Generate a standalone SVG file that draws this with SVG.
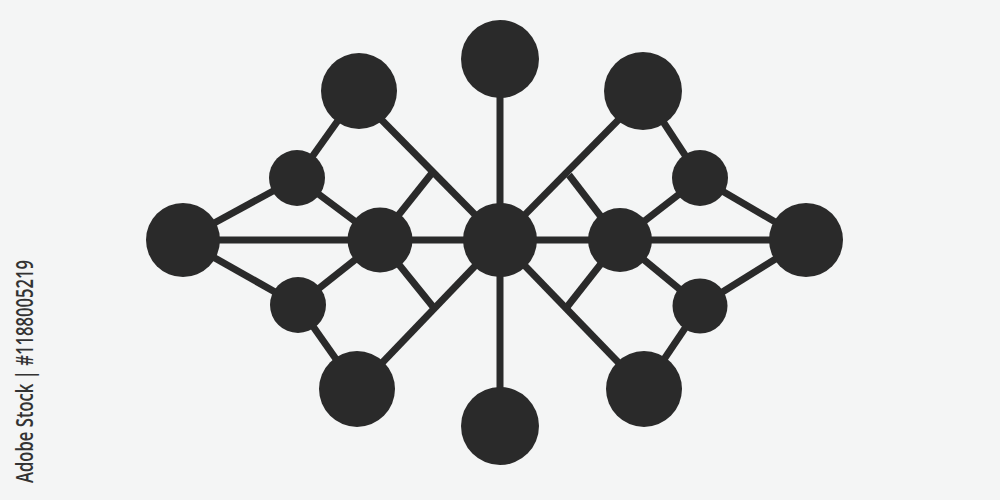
<svg xmlns="http://www.w3.org/2000/svg" width="1000" height="500" viewBox="0 0 1000 500">
<style>
.bg{fill:#f4f5f5}
.n circle{fill:#2a2a2a}
.e line{stroke:#2a2a2a;stroke-width:7;stroke-linecap:butt}
.lbl{font-family:"Open Sans","Liberation Sans",sans-serif;font-size:23px;font-weight:600;fill:#333333}
</style>
<rect class="bg" x="0" y="0" width="1000" height="500"/>
<g id="connectors" class="e">
<line x1="500" y1="59" x2="500" y2="426"/>
<line x1="183" y1="240" x2="806" y2="240"/>
<line x1="183" y1="240" x2="297" y2="178"/>
<line x1="297" y1="178" x2="359" y2="91"/>
<line x1="297" y1="178" x2="380" y2="240"/>
<line x1="500" y1="240" x2="362" y2="100"/>
<line x1="385" y1="232" x2="432" y2="173"/>
<line x1="183" y1="240" x2="298" y2="305"/>
<line x1="298" y1="305" x2="380" y2="240"/>
<line x1="298" y1="305" x2="357" y2="389"/>
<line x1="500" y1="240" x2="357" y2="389"/>
<line x1="388" y1="251" x2="434" y2="308"/>
<line x1="806" y1="240" x2="700" y2="178"/>
<line x1="700" y1="178" x2="643" y2="91"/>
<line x1="700" y1="178" x2="620" y2="240"/>
<line x1="500" y1="240" x2="638" y2="100"/>
<line x1="612" y1="231" x2="569" y2="175"/>
<line x1="806" y1="240" x2="700" y2="306"/>
<line x1="700" y1="306" x2="620" y2="240"/>
<line x1="700" y1="306" x2="644" y2="389"/>
<line x1="500" y1="240" x2="644" y2="389"/>
<line x1="611" y1="251" x2="567" y2="307"/>
</g>
<g id="n-top" class="n"><circle cx="500" cy="59" r="39"/></g>
<g id="n-bottom" class="n"><circle cx="500" cy="426" r="39"/></g>
<g id="n-center" class="n"><circle cx="500" cy="240" r="37"/></g>
<g id="n-left-top" class="n"><circle cx="359" cy="91" r="38"/></g>
<g id="n-left-small-top" class="n"><circle cx="297" cy="178" r="28"/></g>
<g id="n-far-left" class="n"><circle cx="183" cy="240" r="37"/></g>
<g id="n-left-mid" class="n"><circle cx="380" cy="240" r="32.5"/></g>
<g id="n-left-small-bottom" class="n"><circle cx="298" cy="305" r="28"/></g>
<g id="n-left-bottom" class="n"><circle cx="357" cy="389" r="38"/></g>
<g id="n-right-top" class="n"><circle cx="643" cy="91" r="39"/></g>
<g id="n-right-small-top" class="n"><circle cx="700" cy="178" r="28"/></g>
<g id="n-far-right" class="n"><circle cx="806" cy="240" r="37"/></g>
<g id="n-right-mid" class="n"><circle cx="620" cy="240" r="32"/></g>
<g id="n-right-small-bottom" class="n"><circle cx="700" cy="306" r="27.5"/></g>
<g id="n-right-bottom" class="n"><circle cx="644" cy="389" r="38"/></g>
<text class="lbl" transform="translate(33,483) rotate(-90)" x="0" y="0" textLength="223" lengthAdjust="spacingAndGlyphs">Adobe Stock | #1188005219</text>
</svg>
